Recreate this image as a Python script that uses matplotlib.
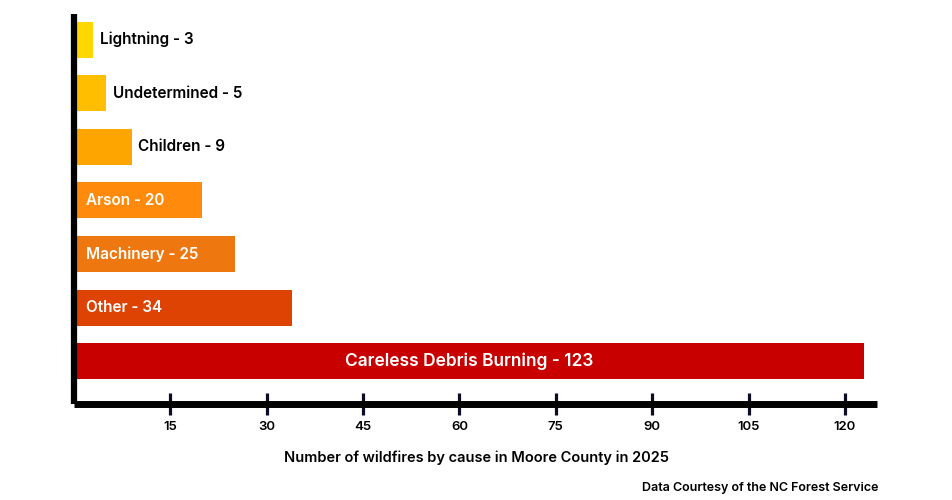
import matplotlib
matplotlib.use("Agg")
import matplotlib.pyplot as plt

plt.rcParams['font.family'] = ['Inter', 'DejaVu Sans']

# data, bottom bar first
causes = ['Careless Debris Burning', 'Other', 'Machinery', 'Arson',
          'Children', 'Undetermined', 'Lightning']
counts = [123, 34, 25, 20, 9, 5, 3]
colors = ['#C80000', '#DE4304', '#EE7710', '#FF8A0C',
          '#FFA500', '#FFBF00', '#FFD700']
inside = [True, True, True, True, False, False, False]
ticks = [15, 30, 45, 60, 75, 90, 105, 120]

fig = plt.figure(figsize=(9.52, 5.0), dpi=100)
# axes box in pixels: left 74, right 877, top 14, bottom 404
ax = fig.add_axes([74 / 952, 1 - 404 / 500, (877 - 74) / 952, (404 - 14) / 500])

pos = list(range(len(causes)))
ax.barh(pos, counts, height=0.67, color=colors, zorder=1)

for p, c, n, ins in zip(pos, causes, counts, inside):
    txt = f'{c} - {n}'
    if n > 100:
        ax.text(n / 2, p, txt, ha='center', va='center', color='white',
                fontsize=12.5, fontweight='semibold')
    elif ins:
        ax.text(1.9, p, txt, ha='left', va='center', color='white',
                fontsize=11, fontweight='semibold')
    else:
        ax.text(n + 1.0, p, txt, ha='left', va='center', color='black',
                fontsize=11, fontweight='semibold')

ax.set_xlim(0, 125)
ax.set_ylim(-0.80, 6.48)
ax.set_yticks([])
ax.set_xticks(ticks)
ax.set_xticklabels([str(t) for t in ticks], fontsize=9.5, fontweight='semibold')
ax.tick_params(axis='x', direction='inout', length=16.5, width=2.3,
               color='#0b0b22', pad=4)

for s in ['top', 'right']:
    ax.spines[s].set_visible(False)
ax.spines['bottom'].set_linewidth(5)
ax.spines['left'].set_linewidth(4.5)
ax.spines['bottom'].set_capstyle('butt')
ax.spines['left'].set_capstyle('butt')
ax.spines['bottom'].set_zorder(3)
ax.spines['left'].set_zorder(3)

fig.text(476 / 952, 1 - 458 / 500,
         'Number of wildfires by cause in Moore County in 2025',
         ha='center', va='center', fontsize=10.5, fontweight='semibold')
fig.text(878 / 952, 1 - 488 / 500, 'Data Courtesy of the NC Forest Service',
         ha='right', va='center', fontsize=9, fontweight='semibold')

fig.savefig('out.png', dpi=100)
